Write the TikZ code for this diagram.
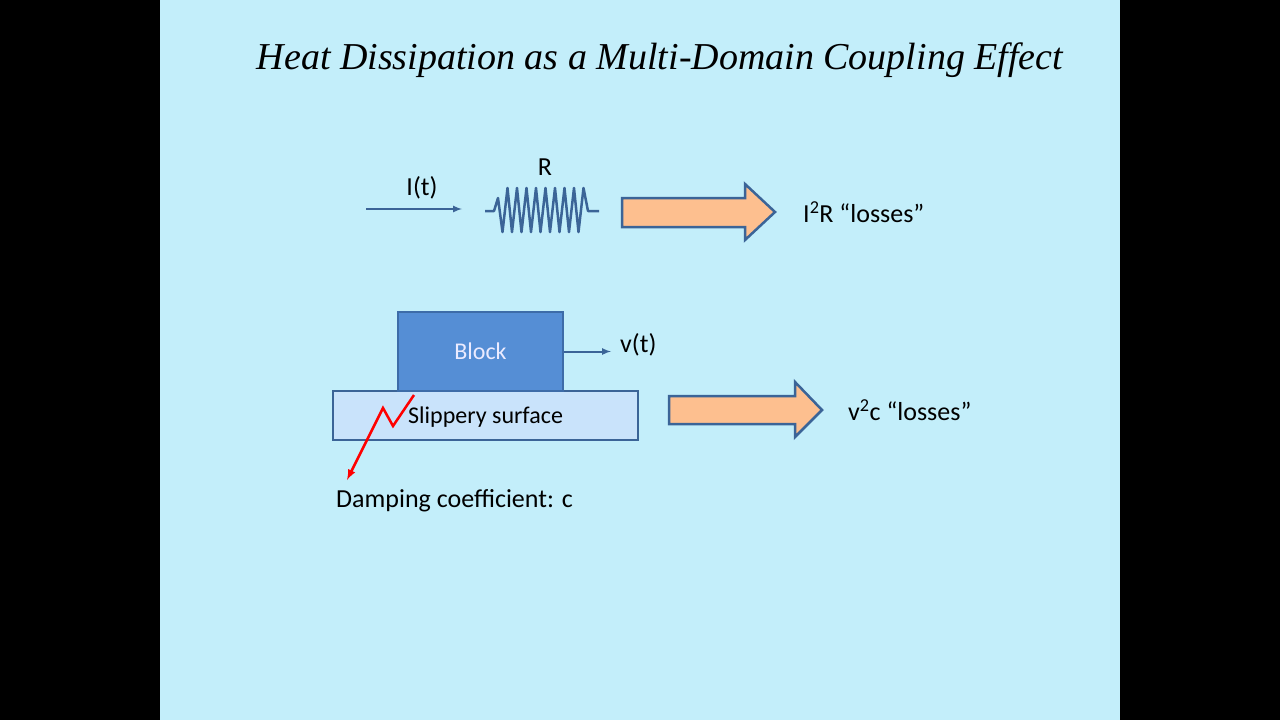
\documentclass[tikz,border=0pt]{standalone}
\usepackage{fontspec}
\setmainfont{Carlito}
\newfontfamily\titlefont{Liberation Serif}
\definecolor{bg}{HTML}{C3EEFA}
\definecolor{ln}{HTML}{3B6497}
\definecolor{blkf}{HTML}{558ED5}
\definecolor{blkd}{HTML}{3D6CA8}
\definecolor{surf}{HTML}{C9E3FB}
\definecolor{orf}{HTML}{FDBF8F}
\begin{document}
\begin{tikzpicture}[x=1pt,y=-1pt,
  lbl/.style={inner sep=0pt,font=\fontsize{26}{29}\selectfont},
  fat/.style={draw=ln,line width=2.5pt,fill=orf},
  blu/.style={draw=ln,line width=2pt}]
\useasboundingbox (0,0) rectangle (1280,720);
\fill[black] (0,0) rectangle (1280,720);
\fill[bg] (160,0) rectangle (1120,720);
\node[inner sep=0pt] (title) at (660,60) {\titlefont\itshape\fontsize{38}{42}\selectfont Heat Dissipation as a Multi-Domain Coupling Effect};
% circuit
\coordinate (i0) at (366,209); \coordinate (i1) at (462,209);
\draw[blu,-latex] (i0) -- (i1);
\node[lbl] (it) at (422,188) {I(t)};
\node[lbl] (R) at (545,167) {R};
\draw[blu,line width=2.5pt,line join=round] (485,211) -- (494,211) -- (498,198)
  \foreach \k in {0,...,8} { -- ({502.5+\k*9.5},232) -- ({507.5+\k*9.5},188) } -- (588,211) -- (599,211);
\draw[fat] (622,198) -- (745,198) -- (745,184) -- (775,212) -- (745,240) -- (745,227) -- (622,227) -- cycle;
\node[lbl,anchor=west] (l1) at (803,212) {I\textsuperscript{2}R “losses”};
% mechanical
\node[draw=ln,line width=2pt,fill=surf,minimum width=305pt,minimum height=49pt,inner sep=0pt] (surf) at (485.5,415.5) {};
\node[draw=blkd,line width=2pt,fill=blkf,minimum width=165pt,minimum height=79pt,inner sep=0pt,text=white!92!blue,font=\fontsize{24}{27}\selectfont] (blk) at (480.5,351.5) {Block};
\node[lbl,font=\fontsize{24}{27}\selectfont,anchor=west] (sl) at (408,417) {Slippery surface};
\draw[blu,-latex] (blk.east) -- ++(47,0) coordinate (v1);
\node[lbl,anchor=west] (vt) at (620,345) {v(t)};
\draw[fat] (669,396) -- (795,396) -- (795,382) -- (822,410) -- (795,437) -- (795,424) -- (669,424) -- cycle;
\node[lbl,anchor=west] (l2) at (848,410) {v\textsuperscript{2}c “losses”};
\coordinate (z0) at (414,395); \coordinate (z1) at (393,426); \coordinate (z2) at (383,408);
\node[lbl,anchor=west] (dc) at (336,501) {Damping coefficient: c};
\draw[red,line width=2.5pt,-latex] (z0) -- (z1) -- (z2) -- (347,480);
\end{tikzpicture}
\end{document}
